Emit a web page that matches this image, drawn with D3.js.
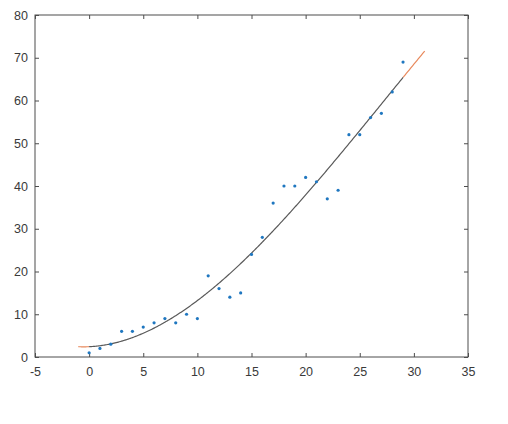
<!DOCTYPE html>
<html>
<head>
<meta charset="utf-8">
<script src="https://cdn.jsdelivr.net/npm/d3@7.9.0/dist/d3.min.js"></script>
<style>
  body { margin: 0; background: #fff; }
  svg { display: block; }
  .tick text { font-family: "Liberation Sans", Arial, sans-serif; font-size: 12.5px; fill: #3a3a3a; }
</style>
</head>
<body>
<svg id="chart" width="508" height="424"></svg>
<script>
// observed data
const xs = d3.range(0, 30);
const ys = [1, 2, 3, 6, 6, 7, 8, 9, 8, 10, 9, 19, 16, 14, 15, 24, 28, 36, 40, 40,
            42, 41, 37, 39, 52, 52, 56, 57, 62, 69];
const xTicks = [-5, 0, 5, 10, 15, 20, 25, 30, 35];
const yTicks = [0, 10, 20, 30, 40, 50, 60, 70, 80];
const fitDomain = [-1, 31];   // extended fit (orange)
const dataDomain = [0, 29];   // fit over data range (dark)

const svg = d3.select('#chart');
const padL = 35, padR = 468, padT = 15, padB = 357;

const x = d3.scaleLinear().domain([-5, 35]).range([padL, padR]);
const y = d3.scaleLinear().domain([0, 80]).range([padB, padT]);

// least squares cubic fit of the data (like polyfit(x, y, 3))
function polyfit(xv, yv, deg) {
  const n = deg + 1;
  const A = d3.range(n).map(() => new Array(n + 1).fill(0));
  xv.forEach((xi, k) => {
    for (let i = 0; i < n; i++) {
      for (let j = 0; j < n; j++) A[i][j] += Math.pow(xi, i + j);
      A[i][n] += yv[k] * Math.pow(xi, i);
    }
  });
  for (let i = 0; i < n; i++) {
    let p = i;
    for (let r = i + 1; r < n; r++) if (Math.abs(A[r][i]) > Math.abs(A[p][i])) p = r;
    [A[i], A[p]] = [A[p], A[i]];
    for (let r = 0; r < n; r++) {
      if (r === i) continue;
      const f = A[r][i] / A[i][i];
      for (let c = i; c <= n; c++) A[r][c] -= f * A[i][c];
    }
  }
  return d3.range(n).map(i => A[i][n] / A[i][i]);
}
const coef = polyfit(xs, ys, 3);
const fit = t => coef.reduce((s, c, i) => s + c * Math.pow(t, i), 0);

const line = d3.line().x(d => x(d)).y(d => y(fit(d)));

// box
svg.append('rect')
  .attr('x', padL).attr('y', padT)
  .attr('width', padR - padL).attr('height', padB - padT)
  .attr('fill', 'none').attr('stroke', '#4d4d4d').attr('stroke-width', 1);

// axes with inward ticks
const fmt = d => String(d);
svg.append('g').attr('transform', `translate(0,${padB})`)
  .call(d3.axisBottom(x).tickValues(xTicks).tickSizeInner(-4).tickSizeOuter(0).tickPadding(10).tickFormat(fmt));
svg.append('g').attr('transform', `translate(${padL},0)`)
  .call(d3.axisLeft(y).tickValues(yTicks).tickSizeInner(-4).tickSizeOuter(0).tickPadding(7).tickFormat(fmt));
svg.append('g').attr('transform', `translate(0,${padT})`)
  .call(d3.axisTop(x).tickValues(xTicks).tickSizeInner(-4).tickSizeOuter(0).tickFormat(''));
svg.append('g').attr('transform', `translate(${padR},0)`)
  .call(d3.axisRight(y).tickValues(yTicks).tickSizeInner(-4).tickSizeOuter(0).tickFormat(''));
svg.selectAll('.domain').remove();
svg.selectAll('.tick line').attr('stroke', '#4d4d4d');

// fitted curve: orange where extrapolated, dark over the data range
const step = 0.1;
svg.append('path')
  .attr('d', line(d3.range(fitDomain[0], dataDomain[0] + 0.001, step)))
  .attr('fill', 'none').attr('stroke', '#e8895c').attr('stroke-width', 1.2);
svg.append('path')
  .attr('d', line(d3.range(dataDomain[1], fitDomain[1] + 0.001, step)))
  .attr('fill', 'none').attr('stroke', '#e8895c').attr('stroke-width', 1.2);
svg.append('path')
  .attr('d', line(d3.range(dataDomain[0], dataDomain[1] + 0.001, step)))
  .attr('fill', 'none').attr('stroke', '#595959').attr('stroke-width', 1.2);

// data points
svg.append('g').selectAll('circle')
  .data(xs)
  .join('circle')
  .attr('cx', (d) => x(d))
  .attr('cy', (d, i) => y(ys[i]))
  .attr('r', 1.6)
  .attr('fill', '#1f77c0');
</script>
</body>
</html>
